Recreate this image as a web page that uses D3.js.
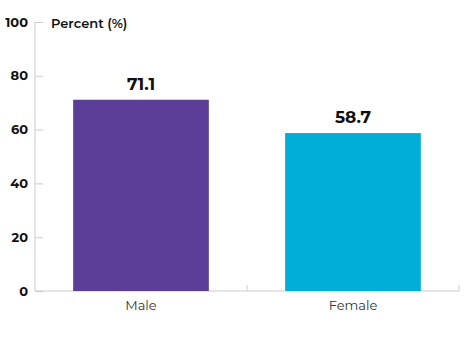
<!DOCTYPE html>
<html><head><meta charset="utf-8">
<script src="https://cdn.jsdelivr.net/npm/d3@7"></script>
<style>body{margin:0;background:#fff}svg{display:block}text{font-family:Montserrat,"Open Sans",Lato,sans-serif}</style>
</head><body><div id="chart"></div>
<script>
const categories = ["Male", "Female"];
const values = [71.1, 58.7];
const colors = ["#5a3e98", "#00aed8"];
const yTicks = [0, 20, 40, 60, 80, 100];
const yTitle = "Percent (%)";

const W = 474, H = 346;
const m = {left: 35, right: 15, top: 22, bottom: 55};
const svg = d3.select("#chart").append("svg").attr("width", W).attr("height", H);
const x = d3.scaleBand().domain(categories).range([m.left, W - m.right]).padding(0);
const y = d3.scaleLinear().domain([0, 100]).range([H - m.bottom, m.top]);
const barFrac = 0.64;

// y axis
const ya = svg.append("g").attr("transform", `translate(${m.left},0)`)
  .call(d3.axisLeft(y).tickValues(yTicks).tickSize(-8).tickPadding(7).tickFormat(d3.format("d")));
ya.select(".domain").attr("stroke", "#ccc").attr("d", `M0,${y(100)}V${y(0)}`);
ya.selectAll(".tick line").attr("stroke", "#ccc");
ya.selectAll(".tick text").attr("font-size", 13).attr("font-weight", 700).attr("fill", "#111");

// x axis
const xa = svg.append("g").attr("transform", `translate(0,${y(0)})`)
  .call(d3.axisBottom(x).tickSize(0).tickPadding(10));
xa.select(".domain").attr("stroke", "#ccc").attr("d", `M${m.left},0H${W - m.right}V-6`);
xa.selectAll(".tick text").attr("font-size", 13).attr("fill", "#333");
svg.append("g").selectAll("line").data(categories.slice(1)).join("line")
  .attr("x1", d => x(d)).attr("x2", d => x(d))
  .attr("y1", y(0)).attr("y2", y(0) - 6).attr("stroke", "#ccc");

// bars
const bw = x.bandwidth() * barFrac;
svg.append("g").selectAll("rect").data(values).join("rect")
  .attr("x", (d, i) => x(categories[i]) + (x.bandwidth() - bw) / 2)
  .attr("width", bw)
  .attr("y", d => y(d))
  .attr("height", d => y(0) - y(d))
  .attr("fill", (d, i) => colors[i]);

svg.append("g").selectAll("text").data(values).join("text")
  .attr("x", (d, i) => x(categories[i]) + x.bandwidth() / 2)
  .attr("y", d => y(d) - 10)
  .attr("text-anchor", "middle")
  .attr("font-size", 17).attr("font-weight", 700).attr("fill", "#111")
  .text(d => d.toFixed(1));

svg.append("text").attr("x", 51).attr("y", 27.5)
  .attr("font-size", 13).attr("font-weight", 600).attr("fill", "#111")
  .text(yTitle);
</script></body></html>
